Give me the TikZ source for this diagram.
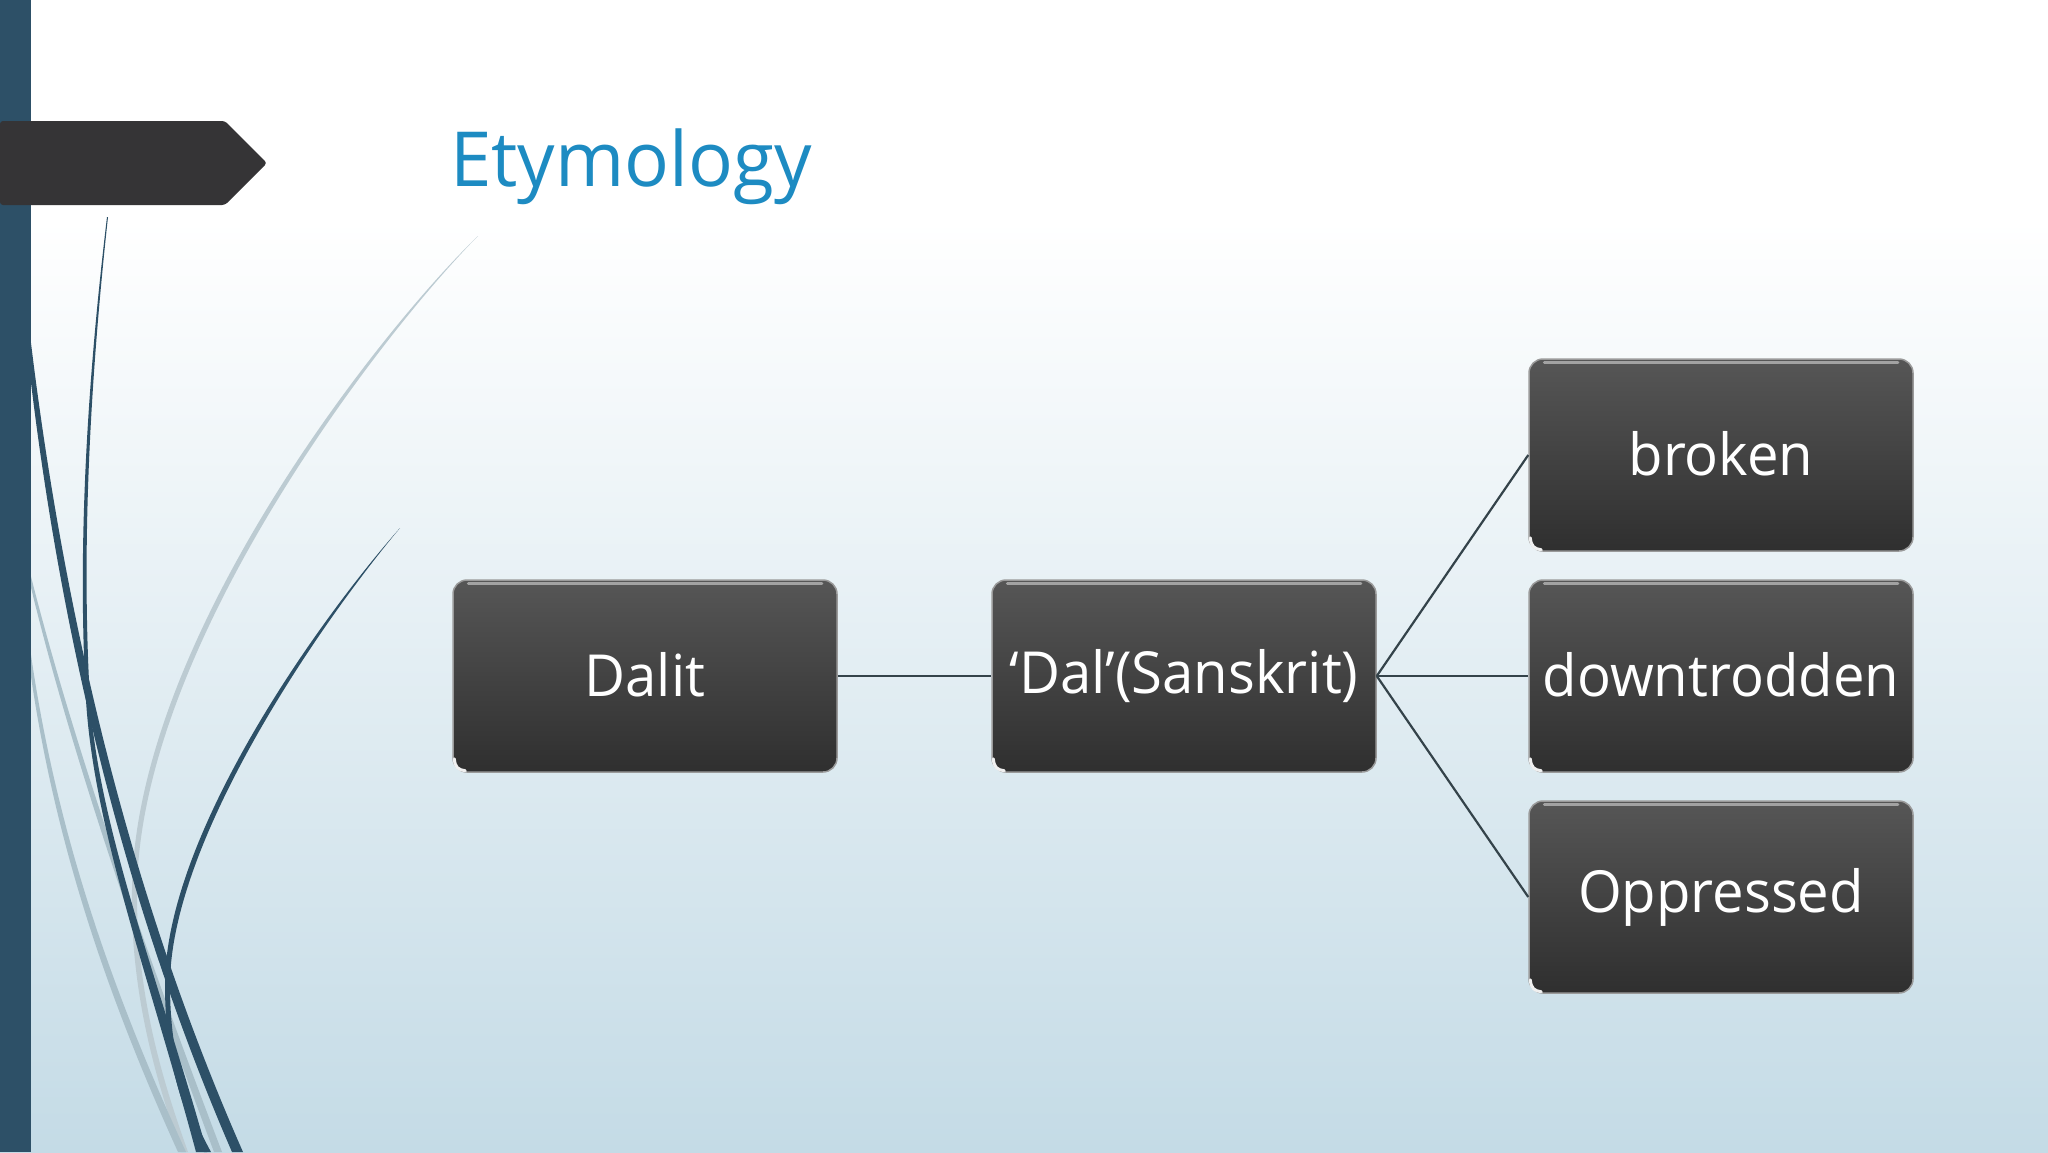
\documentclass[tikz,border=0pt]{standalone}
\usepackage{fontspec}
\usetikzlibrary{calc}
\newfontfamily\boxfont[FakeStretch=0.97]{Open Sans}
\newfontfamily\titlefont[FakeStretch=0.98]{Open Sans}
\definecolor{bgbot}{HTML}{C4DBE6}
\definecolor{barcol}{HTML}{2D5067}
\definecolor{bannercol}{HTML}{353436}
\definecolor{titleblue}{HTML}{1D8BC2}
\definecolor{lightcurve}{HTML}{A9BFC9}
\definecolor{lightcurveD}{HTML}{BCCBD2}
\definecolor{boxtop}{HTML}{565656}
\definecolor{boxbot}{HTML}{2F2F2F}
\definecolor{boxedge}{HTML}{9A9A9A}
\definecolor{linkcol}{HTML}{34434A}
\tikzset{
  termbox/.style={rounded corners=14pt, top color=boxtop, bottom color=boxbot,
    draw=boxedge, line width=1.5pt, minimum width=384pt, minimum height=192pt,
    inner sep=0pt, text=white, font=\boxfont\fontsize{58}{70}\selectfont},
  link/.style={draw=linkcol, line width=2.2pt},
  glint/.style={draw=white!88!gray, line width=3pt, line cap=round},
  rim/.style={draw=white!45!boxtop, line width=3pt, line cap=round}
}
\newcommand{\boxtext}[1]{\raisebox{3pt}{#1}}
\begin{document}
\begin{tikzpicture}[x=1pt,y=-1pt]
\useasboundingbox (0,0) rectangle (2048,1152);
% background
\fill[white] (0,0) rectangle (2048,222);
\shade[top color=white, bottom color=bgbot] (0,220) rectangle (2048,1152);
% light curves
\fill[lightcurveD] (478,236) .. controls (380,330) and (135,640) .. (132,890)
  .. controls (130,1000) and (160,1090) .. (181,1152) -- (188,1152)
  .. controls (166,1090) and (136,1000) .. (137,890)
  .. controls (140,645) and (383,332) .. (478,236) -- cycle;
\fill[lightcurve] (20,580) .. controls (38,800) and (100,980) .. (178,1152)
  -- (186,1152) .. controls (107,980) and (43,800) .. (22,580) -- cycle;
\fill[lightcurve] (20,540) .. controls (55,700) and (120,900) .. (214,1152)
  -- (222,1152) .. controls (126,900) and (60,700) .. (22,540) -- cycle;
% dark curves
\fill[barcol] (107,217) .. controls (85,400) and (78,560) .. (86,700)
  .. controls (94,830) and (150,980) .. (196,1152) -- (207,1152)
  .. controls (159,980) and (99,830) .. (90,700)
  .. controls (82,560) and (88,400) .. (108,217) -- cycle;
\fill[barcol] (22,300) .. controls (50,590) and (115,882) .. (232,1152)
  -- (243,1152) .. controls (124,882) and (58,590) .. (26,300) -- cycle;
\fill[barcol] (400,528) .. controls (320,618) and (165,835) .. (165,985)
  .. controls (165,1060) and (182,1110) .. (204,1152) -- (211,1152)
  .. controls (188,1110) and (170,1060) .. (170,985)
  .. controls (170,840) and (322,621) .. (400,528) -- cycle;
% left bar and banner
\fill[barcol] (0,0) rectangle (31,1152);
\fill[bannercol, rounded corners=3pt] (0,121) -- (225,121) -- (267,163)
  -- (225,205) -- (0,205) -- cycle;
% title
\node[anchor=base west, inner sep=0pt, text=titleblue,
  font=\titlefont\fontsize{76}{90}\selectfont] (title) at (450,186) {Etymology};
% boxes
\node[termbox] (dalit) at (645,676) {\boxtext{Dalit}};
\node[termbox] (dal) at (1184,676) {\boxtext{‘Dal’(Sanskrit)}};
\node[termbox] (broken) at (1721,455) {\boxtext{broken}};
\node[termbox] (down) at (1721,676) {\boxtext{downtrodden}};
\node[termbox] (opp) at (1721,897) {\boxtext{Oppressed}};
\foreach \n in {dalit,dal,broken,down,opp}{
  \draw[rim] ($(\n.north west)+(16,4)$) -- ($(\n.north east)+(-16,4)$);
  \draw[glint] ($(\n.south west)+(2,-14)$) .. controls ($(\n.south west)+(3,-5)$)
    and ($(\n.south west)+(6,-3)$) .. ($(\n.south west)+(13,-2)$);
}
% connectors
\draw[link] (dalit.east) -- (dal.west);
\draw[link] (dal.east) -- (broken.west);
\draw[link] (dal.east) -- (down.west);
\draw[link] (dal.east) -- (opp.west);
\end{tikzpicture}
\end{document}
